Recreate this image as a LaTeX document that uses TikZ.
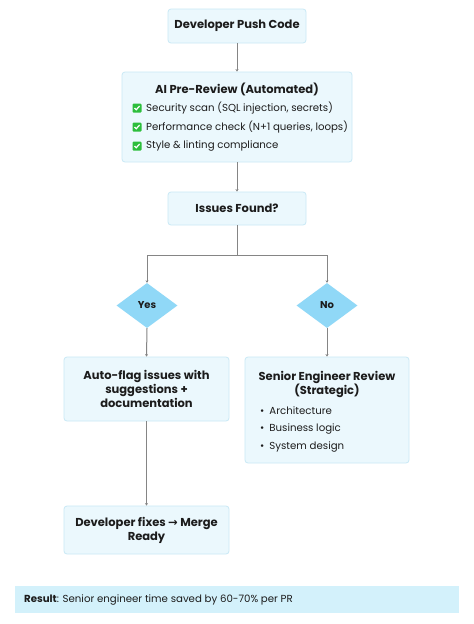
\documentclass[tikz,border=0pt]{standalone}
\usepackage{fontspec}
\setmainfont{Poppins}
\newfontfamily\symfont{DejaVu Sans}
\usetikzlibrary{shapes.geometric,arrows.meta,calc}
\definecolor{boxfill}{HTML}{EBF8FD}
\definecolor{boxline}{HTML}{C9E9F6}
\definecolor{dia}{HTML}{90D8F7}
\definecolor{resfill}{HTML}{D3F1FB}
\definecolor{conn}{HTML}{858585}
\definecolor{txt}{HTML}{1C1C1C}
\definecolor{chk}{HTML}{2DBE3C}
\tikzset{
  x=1pt,y=-1pt,
  fbox/.style={draw=boxline,fill=boxfill,rounded corners=3pt,line width=0.8pt,inner sep=0pt,align=center,text=txt},
  ttl/.style={font=\fontsize{11.5}{14}\selectfont\bfseries,text=txt,align=center,inner sep=0pt},
  itm/.style={font=\fontsize{10.2}{12}\selectfont,text=txt,anchor=west,inner sep=0pt},
  dmd/.style={diamond,fill=dia,draw=none,minimum width=61pt,minimum height=45pt,inner sep=0pt,font=\fontsize{10}{12}\selectfont\bfseries,text=txt},
  conline/.style={draw=conn,line width=1pt},
  arr/.style={conline,-{Stealth[length=2.5pt,width=3pt]}},
}
\newcommand{\chkbox}[1]{%
  \fill[chk,rounded corners=1pt] ($(#1)+(-4.5,-4.5)$) rectangle ($(#1)+(4.5,4.5)$);
  \draw[white,line width=1.2pt] ($(#1)+(-2.5,0)$) -- ($(#1)+(-0.8,1.8)$) -- ($(#1)+(2.6,-2)$);
}
\begin{document}
\begin{tikzpicture}
\useasboundingbox (0,0) rectangle (474,624);
\fill[white] (0,0) rectangle (474,624);
% top node
\node[fbox,minimum width=138pt,minimum height=34pt,font=\fontsize{11.5}{14}\selectfont\bfseries] (n1) at (237,26) {Developer Push Code};
% AI pre-review
\node[fbox,minimum width=230pt,minimum height=90pt] (n2) at (237,117) {};
\node[ttl] (n2t) at (237,89) {AI Pre-Review (Automated)};
\coordinate (c1) at (137,108);
\coordinate (c2) at (137,127);
\coordinate (c3) at (137,146);
\chkbox{c1}\chkbox{c2}\chkbox{c3}
\node[itm] (i1) at (146,108) {Security scan (SQL injection, secrets)};
\node[itm] (i2) at (146,127) {Performance check (N+1 queries, loops)};
\node[itm] (i3) at (146,146) {Style \& linting compliance};
% issues found
\node[fbox,minimum width=138pt,minimum height=33pt,font=\fontsize{11.5}{14}\selectfont\bfseries] (n3) at (237,208.5) {Issues Found?};
\coordinate (j) at (237,255);
% diamonds
\node[dmd] (d1) at (147,305.5) {Yes};
\node[dmd] (d2) at (327,305.5) {No};
% auto flag
\node[fbox,minimum width=165pt,minimum height=64pt,font=\fontsize{11.5}{14}\selectfont\bfseries] (n4) at (146.5,389) {Auto-flag issues with\\suggestions +\\documentation};
% senior
\node[fbox,minimum width=164pt,minimum height=106pt] (n5) at (327,410) {};
\node[ttl] (n5t) at (327,384) {Senior Engineer Review\\(Strategic)};
\node[itm] (b1) at (260,411) {•\hspace{5pt}Architecture};
\node[itm] (b2) at (260,429) {•\hspace{5pt}Business logic};
\node[itm] (b3) at (260,447) {•\hspace{5pt}System design};
% dev fixes
\node[fbox,minimum width=165pt,minimum height=48pt,font=\fontsize{11.5}{14}\selectfont\bfseries] (n6) at (146.5,530) {Developer fixes {\symfont\bfseries →} Merge\\Ready};
% result
\node[draw=none,fill=resfill,minimum width=444pt,minimum height=27pt,inner sep=0pt] (n7) at (237,599.5) {};
\node[itm] (n7t) at (24,600) {\textbf{Result}: Senior engineer time saved by 60-70\% per PR};
% connectors
\draw[arr] (n1.south) -- (n2.north);
\draw[arr] (n2.south) -- (n3.north);
\draw[arr] (n3.south) -- (j) -| (d1.north);
\draw[arr] (j) -| (d2.north);
\draw[arr] (d1.south) -- (n4.north);
\draw[arr] (d2.south) -- (n5.north);
\draw[arr] (n4.south) -- (n6.north);
\end{tikzpicture}
\end{document}
